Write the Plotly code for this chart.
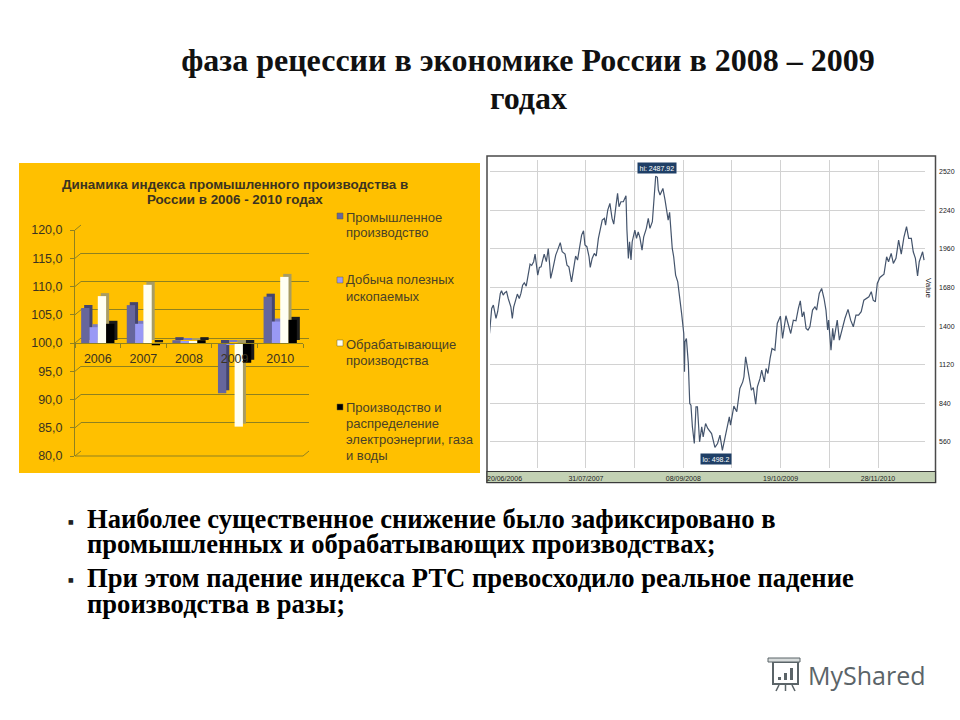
import pandas as pd
import plotly.graph_objects as go

# ---------- Left chart data ----------
years = ["2006", "2007", "2008", "2009", "2010"]
series_names = [
    "Промышленное<br>производство",
    "Добыча полезных<br>ископаемых",
    "Обрабатывающие<br>производства",
    "Производство и<br>распределение<br>электроэнергии, газа<br>и воды",
]
industry = [106.2, 106.7, 100.5, 91.1, 108.2]
mining = [102.8, 103.4, 100.3, 99.8, 103.8]
manufacturing = [108.3, 110.3, 100.2, 85.2, 111.7]
utilities = [103.4, 99.6, 100.5, 96.5, 104.1]
front_colors = ["#66669c", "#9999f5", "#fffff2", "#000000"]
side_colors = ["#45456e", "#7a7ac0", "#a89c62", "#1c1c1c"]
left_ticks = [80, 85, 90, 95, 100, 105, 110, 115, 120]

# ---------- Right chart data (days since 20/06/2006, index value) ----------
rts_start = pd.Timestamp("2006-06-20")
rts_days = [
    4, 9, 13, 20, 27, 31, 38, 43, 49, 54, 61, 68, 75, 82, 89, 93, 99, 105, 113, 120, 128, 135, 142, 149, 157, 166,
    173, 180, 188, 194, 199, 205, 212, 219, 224, 232, 241, 249, 255, 259, 267, 274, 280, 288, 299, 307, 319, 327,
    335, 346, 353, 363, 371, 381, 388, 396, 402, 410, 419, 424, 432, 441, 449, 458, 466, 474, 483, 488, 497, 506,
    515, 522, 530, 538, 544, 552, 562, 573, 577, 583, 588, 594, 599, 610, 617, 624, 631, 640, 647, 658, 666, 673,
    683, 690, 697, 704, 708, 715, 722, 727, 736, 742, 749, 755, 761, 766, 772, 780, 789, 798, 805, 814, 817, 819,
    825, 833, 839, 844, 850, 858, 865, 871, 880, 889, 895, 905, 914, 930, 944, 955, 965, 975, 983, 993, 1004, 1009,
    1023, 1035, 1048, 1060, 1065, 1072, 1079, 1087, 1096, 1104, 1114, 1121, 1132, 1139, 1150, 1157, 1165, 1174,
    1182, 1194, 1204, 1217, 1226, 1240, 1251, 1260, 1271, 1282, 1292, 1300, 1308, 1315, 1324, 1332, 1340, 1351,
    1361, 1368, 1379, 1389, 1399, 1407, 1414, 1418, 1428, 1435, 1440, 1446, 1454, 1463, 1474, 1486, 1499, 1510,
    1521, 1532, 1543, 1554, 1565, 1577, 1586, 1596, 1604, 1613, 1621, 1632, 1649, 1660, 1668, 1679, 1688, 1699,
    1710, 1721, 1732, 1743, 1752, 1763, 1771, 1780, 1789, 1796, 1805, 1810, 1816,
]
rts_values = [
    1346, 1443, 1528, 1552, 1479, 1455, 1504, 1559, 1637, 1656, 1625, 1642, 1651, 1600, 1552, 1540, 1455, 1540, 1588,
    1632, 1600, 1637, 1697, 1714, 1690, 1782, 1850, 1840, 1867, 1922, 1842, 1770, 1825, 1830, 1867, 1922, 1867, 1963,
    1842, 1746, 1806, 1879, 1915, 1951, 2005, 1939, 1922, 1842, 1830, 1721, 1806, 1908, 1879, 1976, 2060, 2092, 1988,
    1976, 1903, 1825, 1891, 1927, 1908, 2036, 2097, 2169, 2181, 2133, 2242, 2290, 2181, 2140, 2254, 2363, 2266, 2302,
    2302, 2346, 2097, 1891, 2012, 1879, 2012, 2097, 2036, 2084, 2043, 1951, 2048, 2109, 2181, 2109, 2157, 2363, 2488,
    2479, 2387, 2351, 2375, 2399, 2314, 2230, 2169, 2225, 2072, 1963, 1903, 1770, 1721, 1612, 1492, 1346, 1068, 1286,
    1310, 1129, 838, 826, 669, 548, 814, 814, 560, 669, 596, 693, 657, 620, 520, 548, 608, 498, 572, 644, 741, 681,
    819, 778, 947, 995, 1032, 1177, 1104, 1008, 935, 954, 833, 959, 1020, 1080, 995, 1092, 1056, 1165,
    1237, 1225, 1419, 1472, 1310, 1475, 1395, 1346, 1443, 1438, 1528, 1583, 1467, 1504, 1383, 1371, 1395, 1516,
    1540, 1516, 1637, 1673, 1600, 1516, 1371, 1443, 1225, 1383, 1298, 1371, 1443, 1298, 1383, 1455, 1521, 1443,
    1395, 1479, 1479, 1504, 1588, 1600, 1612, 1649, 1588, 1576, 1709, 1753, 1777, 1903, 1867, 1927, 1855, 1891,
    2024, 1922, 2043, 2121, 2036, 2036, 1939, 1891, 1763, 1867, 1915, 1939, 1879,
]
rts_ticks_days = [203, 406, 609, 812, 1015, 1218, 1421, 1624]
rts_tick_text = ["", "31/07/2007", "", "08/09/2008", "", "19/10/2009", "", "28/11/2010"]
rts_y_ticks = [560, 840, 1120, 1400, 1680, 1960, 2240, 2520]

W, H = 960, 720
px = lambda v: v / W
py = lambda v: 1 - v / H
to_date = lambda d: rts_start + pd.Timedelta(days=d)

fig = go.Figure()
all_series = [industry, mining, manufacturing, utilities]

# invisible anchor so the back plane (gridlines) exists
fig.add_trace(go.Bar(x=years, y=[None] * 5, xaxis="x", yaxis="y", showlegend=False, hoverinfo="skip"))
# side faces, shifted a little up and to the right
for vals, col in zip(all_series, side_colors):
    fig.add_trace(go.Bar(x=years, y=[v - 100 for v in vals], base=100, marker=dict(color=col, line_width=0),
                         xaxis="x2", yaxis="y2", showlegend=False, hoverinfo="skip"))
# front faces
for vals, col in zip(all_series, front_colors):
    fig.add_trace(go.Bar(x=years, y=[v - 100 for v in vals], base=100, marker=dict(color=col, line_width=0),
                         xaxis="x3", yaxis="y3", showlegend=False))
# RTS line
fig.add_trace(go.Scatter(x=[to_date(d) for d in rts_days], y=rts_values, mode="lines", showlegend=False,
                         line=dict(color="#44546c", width=1.2), xaxis="x4", yaxis="y4"))

GRID = "#8f8120"
TXT = "#3b3320"
LEG = "#4a4226"
NARROW = "Liberation Sans"
SERIF = "Liberation Serif"
ICON = "#5b6468"


def box(x0, x1, y0, y1, fill, line=None, width=0, layer="above"):
    return dict(type="rect", xref="paper", yref="paper", x0=px(x0), x1=px(x1), y0=py(y0), y1=py(y1),
                fillcolor=fill, line=dict(color=line or fill, width=width), layer=layer)


def seg(x0, x1, y0, y1, color, width=1, layer="above"):
    return dict(type="line", xref="paper", yref="paper", x0=px(x0), x1=px(x1), y0=py(y0), y1=py(y1),
                line=dict(color=color, width=width), layer=layer)


FRONT_B, FRONT_T = 456, 230
shapes = [
    box(19, 480, 163, 473, "#FFC000", layer="below"),
    box(487, 935.5, 156, 482.5, "white", "#4a4a4a", 1.5, "below"),
    box(487, 935.5, 471.5, 482.5, "#c3d1b4", "#3a3a3a", 1.2, "below"),
    # floor of the pseudo-3D chart
    seg(75, 303, FRONT_B, FRONT_B, GRID),
    seg(303, 309, FRONT_B, FRONT_B - 5, GRID),
    # watermark icon
    box(773, 798, 662, 684, "white", ICON, 2),
    box(768, 800, 658, 662, "#d8dcdc", ICON, 1),
    box(778, 781, 677, 680, ICON),
    box(784, 787, 673, 680, ICON),
    box(790, 793, 668, 680, ICON),
    seg(779, 776, 685, 691, ICON, 1.5),
    seg(785.5, 785.5, 685, 691, ICON, 1.5),
    seg(792, 795, 685, 691, ICON, 1.5),
]
# diagonal connectors from the left wall to the back plane
for t in left_ticks:
    yy = FRONT_B - (t - 80) * (FRONT_B - FRONT_T) / 40
    shapes.append(seg(75, 81, yy, yy - 5, GRID))
# legend keys
for col, key_y in zip(front_colors, [213, 277, 340, 404]):
    shapes.append(box(337, 343, key_y, key_y + 6, col, "#6b6330", 0.5))


def note(x, y, text, size, color="black", family="Liberation Sans", anchor="left", **kw):
    return dict(x=px(x), y=py(y), xref="paper", yref="paper", text=text, showarrow=False, xanchor=anchor,
                yanchor="middle", font=dict(size=size, color=color, family=family), **kw)


annotations = [
    note(528, 98, "<b>годах</b>", 32, "#111", SERIF, anchor="center"),
    note(235, 185, "<b>Динамика индекса промышленного производства в</b>", 13.4, TXT, anchor="center"),
    note(235, 199, "<b>России в 2006 - 2010 годах</b>", 13.4, TXT, anchor="center"),
    note(504, 478, "20/06/2006", 7, "#222", NARROW, anchor="center"),
    note(929, 288, "Value", 8, "#222", NARROW, anchor="center", textangle=90),
    note(657, 168, "hi: 2487.92", 7, "white", NARROW, anchor="center", bgcolor="#1f3f66", borderpad=1.5),
    note(716, 459.5, "lo: 498.2", 7, "white", NARROW, anchor="center", bgcolor="#1f3f66", borderpad=1.5),
    note(66, 521, "■", 6, "#222", "DejaVu Sans"),
    note(84.5, 519, "<b>Наиболее существенное снижение было зафиксировано в</b>", 26.6, "black", SERIF),
    note(84.5, 544, "<b>промышленных и обрабатывающих производствах;</b>", 26.6, "black", SERIF),
    note(66, 579, "■", 6, "#222", "DejaVu Sans"),
    note(84.5, 578, "<b>При этом падение индекса РТС превосходило реальное падение</b>", 26.6, "black", SERIF),
    note(84.5, 604, "<b>производства в разы;</b>", 26.6, "black", SERIF),
    note(806, 675, "MyShared", 25, ICON, "Open Sans"),
]
# legend entries, each line placed at the reference spacing
for name, first_y in zip(series_names, [217, 280, 344, 407]):
    for k, line in enumerate(name.split("<br>")):
        annotations.append(note(344, first_y + 16 * k, line, 13, LEG))

fig.update_layout(
    width=W, height=H, margin=dict(l=0, r=0, t=0, b=0, autoexpand=False),
    paper_bgcolor="white", plot_bgcolor="rgba(0,0,0,0)", separators=", ",
    barmode="group", bargap=0.27, bargroupgap=0, showlegend=False,
    title=dict(text="<b>фаза рецессии в экономике России в 2008 – 2009</b>", x=px(528), xanchor="center",
               y=py(60), yanchor="middle", font=dict(family=SERIF, size=32, color="#111")),
    # back plane: gridlines
    xaxis=dict(domain=[px(81), px(309)], type="category", categoryorder="array", categoryarray=years,
               range=[-0.5, 4.5], showticklabels=False, showgrid=False, zeroline=False, anchor="y"),
    yaxis=dict(domain=[py(451), py(225)], range=[80, 120], dtick=5, showticklabels=False, showgrid=True,
               gridcolor=GRID, gridwidth=1, zeroline=False, anchor="x"),
    # side faces of the bars
    xaxis2=dict(domain=[px(78), px(306)], type="category", categoryorder="array", categoryarray=years,
                range=[-0.5, 4.5], showticklabels=False, showgrid=False, zeroline=False, anchor="y2"),
    yaxis2=dict(domain=[py(453), py(227)], range=[80, 120], showticklabels=False, showgrid=False,
                zeroline=False, anchor="x2"),
    # front plane: bars and labels
    xaxis3=dict(domain=[px(75), px(303)], type="category", categoryorder="array", categoryarray=years,
                range=[-0.5, 4.5], anchor="free", position=py(343), tickson="boundaries", ticks="outside",
                ticklen=4, tickcolor=GRID, showline=True, linecolor=GRID, showgrid=False, zeroline=False,
                ticklabelstandoff=4, tickfont=dict(size=12.5, color=TXT, family="Liberation Sans")),
    yaxis3=dict(domain=[py(FRONT_B), py(FRONT_T)], range=[80, 120], dtick=5, tickformat=".1f", anchor="x3",
                showline=True, linecolor=GRID, ticks="outside", ticklen=4, tickcolor=GRID, showgrid=False,
                ticklabelstandoff=5, zeroline=False, tickfont=dict(size=12.5, color=TXT, family="Liberation Sans")),
    # RTS chart
    xaxis4=dict(domain=[px(490), px(925)], type="date", range=[to_date(6), to_date(1820)],
                tickvals=[to_date(d) for d in rts_ticks_days], ticktext=rts_tick_text, anchor="y4",
                showgrid=True, gridcolor="#d2d2d2", gridwidth=1.2, zeroline=False, ticks="outside",
                ticklen=4, tickcolor="rgba(0,0,0,0)", tickangle=0,
                tickfont=dict(size=7, color="#222", family=NARROW)),
    yaxis4=dict(domain=[py(468), py(160)], range=[370, 2605], tickvals=rts_y_ticks, anchor="free", side="right",
                position=px(938), showgrid=True, gridcolor="#d2d2d2", gridwidth=1.2, zeroline=False, ticks="",
                tickfont=dict(size=7, color="#222", family=NARROW)),
    shapes=shapes, annotations=annotations,
)

fig.write_html("out.html", config={"displayModeBar": False}, post_script="document.body.style.margin='0';")
